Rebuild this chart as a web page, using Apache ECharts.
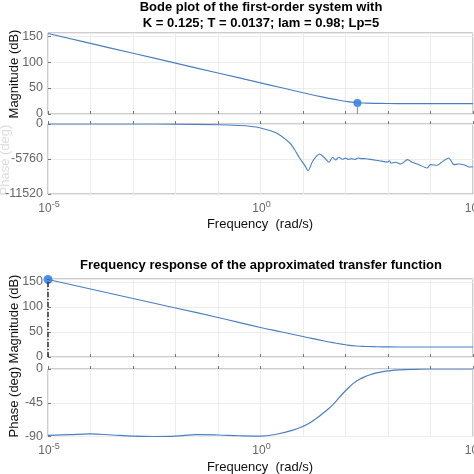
<!DOCTYPE html>
<html>
<head>
<meta charset="utf-8">
<title>Bode plots</title>
<script src="https://cdn.jsdelivr.net/npm/echarts@6/dist/echarts.min.js"></script>
<style>
  html, body { margin: 0; padding: 0; background: #fff; }
  #chart { width: 474px; height: 474px; }
</style>
</head>
<body>
<div id="chart"></div>
<script>
// frequency exponents (log10 of rad/s) and values
const magExp = [-5, -4, -3, -2, -1, 0, 0.5, 1, 1.5, 1.75, 2, 2.25, 2.5, 2.75, 3, 3.5, 4, 5];
const magTop = [155, 136, 117, 98, 79, 60, 50.5, 41, 32, 28, 24.5, 22, 21, 20.5, 20.2, 20, 20, 20];
const magBottom = [155, 136, 117, 98, 79, 59, 50, 41, 32, 28, 24.5, 22, 21, 20.5, 20.2, 20, 20, 20];

const phaseTopExp = [-5, -3, -2, -1, -0.5, -0.25, 0, 0.375, 0.69, 0.8, 0.92, 1.04, 1.12, 1.23, 1.39, 1.51, 1.61, 1.7, 1.77,
  1.84, 1.93, 2.0, 2.07, 2.14, 2.22, 2.3, 2.38, 2.48, 2.63, 2.79, 2.99, 3.04, 3.07, 3.18, 3.3, 3.46, 3.57, 3.73, 3.92,
  4.0, 4.16, 4.26, 4.43, 4.55, 4.66, 4.82, 4.9, 5.0];
const phaseTop = [0, 0, -20, -120, -250, -380, -660, -1480, -3130, -4200, -5600, -6800, -7690, -6090, -4940, -5600, -6300, -5480, -5930,
  -5480, -5810, -5600, -5850, -5700, -5850, -5600, -5700, -5710, -5870, -6040, -6250, -6040, -6470, -6300, -6580, -5870, -6300, -6690, -7240,
  -6690, -6800, -6300, -5600, -6690, -6580, -6800, -7080, -7030];

const phaseBottomExp = [-5, -4.5, -4, -3.5, -3, -2.5, -2, -1.5, -1, -0.5, 0, 0.375, 0.765, 1.0, 1.157, 1.3, 1.47, 1.6, 1.7, 1.8,
  1.9, 2.0, 2.09, 2.2, 2.33, 2.45, 2.56, 2.7, 2.88, 3.0, 3.27, 3.66, 4, 5];
const phaseBottom = [-88.5, -87.5, -86.5, -88, -89.5, -90, -89.5, -87.5, -88, -89, -89.5, -87, -81.5, -76.5, -72, -66.5, -59, -53, -47.8, -41.5,
  -35, -29, -24, -18.5, -13.7, -10.5, -8, -5.5, -3.6, -2.6, -1.2, -0.4, 0, 0];

// data tips
const tipTop = [2.28, 21];
const tipBottom = [-5, 155];

const magTicks = [0, 50, 100, 150];
const phaseTopTicks = [-11520, -5760, 0];
const phaseBottomTicks = [-90, -45, 0];
const labelledExp = [-5, 0, 5];

const toPairs = (xs, ys) => xs.map((e, i) => [Math.pow(10, e), ys[i]]);

const lineColor = '#4a7fc1';
const font = '"Liberation Sans", Arial, sans-serif';

const chart = echarts.init(document.getElementById('chart'));

const grids = [
  { left: 48, width: 425, top: 33, height: 81 },
  { left: 48, width: 425, top: 124, height: 70 },
  { left: 48, width: 425, top: 279, height: 78 },
  { left: 48, width: 425, top: 369, height: 67.5 },
].map(g => Object.assign({
  show: true, borderColor: '#9a9a9a', borderWidth: 1, backgroundColor: '#fff',
  containLabel: false, outerBoundsMode: 'none',
}, g));

function xAxisFor(i, showLabels) {
  return {
    type: 'log',
    logBase: 10,
    gridIndex: i,
    min: 1e-5,
    max: 1e5,
    interval: 1,
    axisLine: { show: false },
    axisTick: { show: true, inside: true, length: 3, lineStyle: { color: '#777' } },
    splitLine: { show: true, lineStyle: { color: '#ececec', width: 1 } },
    axisLabel: {
      show: showLabels,
      margin: 6,
      color: '#666',
      fontFamily: font,
      fontSize: 12,
      showMinLabel: true,
      showMaxLabel: true,
      hideOverlap: false,
      padding: [0, 0, 0, 2],
      formatter: v => {
        const e = Math.round(Math.log10(v));
        return labelledExp.includes(e) ? '10{sup|' + e + '}' : '';
      },
      rich: { sup: { fontSize: 9, color: '#666', fontFamily: font, padding: [0, 0, 8, 0] } },
    },
  };
}

function yAxisFor(i, min, max, interval) {
  return {
    type: 'value',
    gridIndex: i,
    min: min,
    max: max,
    interval: interval,
    axisLine: { show: false },
    axisTick: { show: true, inside: true, length: 3, lineStyle: { color: '#777' } },
    splitLine: { show: true, lineStyle: { color: '#ececec', width: 1 } },
    axisLabel: {
      color: '#666',
      fontFamily: font,
      fontSize: 12.5,
      margin: 5,
      showMaxLabel: max % interval === 0,
      formatter: v => String(v),
    },
  };
}

function text(x, y, str, opts) {
  return Object.assign({
    type: 'text',
    x: x,
    y: y,
    style: Object.assign({
      text: str,
      fill: '#111',
      font: '13px ' + font,
      align: 'center',
      verticalAlign: 'middle',
    }, opts && opts.style),
  }, opts && opts.rotation !== undefined ? { rotation: opts.rotation } : {});
}

const option = {
  animation: false,
  backgroundColor: '#fff',
  grid: grids,
  xAxis: [xAxisFor(0, false), xAxisFor(1, true), xAxisFor(2, false), xAxisFor(3, true)],
  yAxis: [
    yAxisFor(0, magTicks[0], 156, 50),
    yAxisFor(1, phaseTopTicks[0], phaseTopTicks[2], 5760),
    yAxisFor(2, magTicks[0], 156, 50),
    yAxisFor(3, phaseBottomTicks[0], phaseBottomTicks[2], 45),
  ],
  series: [
    {
      type: 'line', xAxisIndex: 0, yAxisIndex: 0, data: toPairs(magExp, magTop),
      smooth: true, symbol: 'none', lineStyle: { color: lineColor, width: 1.2 },
    },
    {
      type: 'line', xAxisIndex: 0, yAxisIndex: 0, data: toPairs([tipTop[0], tipTop[0]], [0, tipTop[1]]),
      symbol: 'none', lineStyle: { color: '#6f8fb8', width: 1 },
    },
    {
      type: 'scatter', xAxisIndex: 0, yAxisIndex: 0, data: toPairs([tipTop[0]], [tipTop[1]]),
      symbolSize: 8, itemStyle: { color: '#1f74e6' },
    },
    {
      type: 'line', xAxisIndex: 1, yAxisIndex: 1, data: toPairs(phaseTopExp, phaseTop),
      smooth: 0.25, symbol: 'none', lineStyle: { color: lineColor, width: 1.1 },
    },
    {
      type: 'line', xAxisIndex: 2, yAxisIndex: 2, data: toPairs(magExp, magBottom),
      smooth: true, symbol: 'none', lineStyle: { color: lineColor, width: 1.2 },
    },
    {
      type: 'line', xAxisIndex: 2, yAxisIndex: 2, data: toPairs([tipBottom[0], tipBottom[0]], [0, tipBottom[1]]),
      symbol: 'none', clip: false, lineStyle: { color: '#333', width: 1.5, type: [5, 2, 1, 2] },
    },
    {
      type: 'scatter', xAxisIndex: 2, yAxisIndex: 2, data: toPairs([tipBottom[0]], [tipBottom[1]]),
      symbolSize: 9, clip: false, itemStyle: { color: '#1f74e6' },
    },
    {
      type: 'line', xAxisIndex: 3, yAxisIndex: 3, data: toPairs(phaseBottomExp, phaseBottom),
      smooth: 0.4, symbol: 'none', lineStyle: { color: lineColor, width: 1.2 },
    },
  ],
  graphic: [
    text(261, 7, 'Bode plot of the first-order system with', { style: { font: 'bold 13px ' + font, fill: '#000' } }),
    text(261, 23, 'K = 0.125; T = 0.0137; lam = 0.98; Lp=5', { style: { font: 'bold 13px ' + font, fill: '#000' } }),
    text(261, 265, 'Frequency response of the approximated transfer function', { style: { font: 'bold 13px ' + font, fill: '#000' } }),
    text(14, 74, 'Magnitude (dB)', { rotation: Math.PI / 2 }),
    text(5, 160, 'Phase (deg)', { rotation: Math.PI / 2, style: { fill: '#dcdcdc' } }),
    text(14, 319, 'Magnitude (dB)', { rotation: Math.PI / 2 }),
    text(14, 402, 'Phase (deg)', { rotation: Math.PI / 2 }),
    text(260, 224, 'Frequency  (rad/s)', { style: { font: '13px ' + font } }),
    text(260, 467, 'Frequency  (rad/s)', { style: { font: '13px ' + font } }),
  ],
};

chart.setOption(option);
</script>
</body>
</html>
